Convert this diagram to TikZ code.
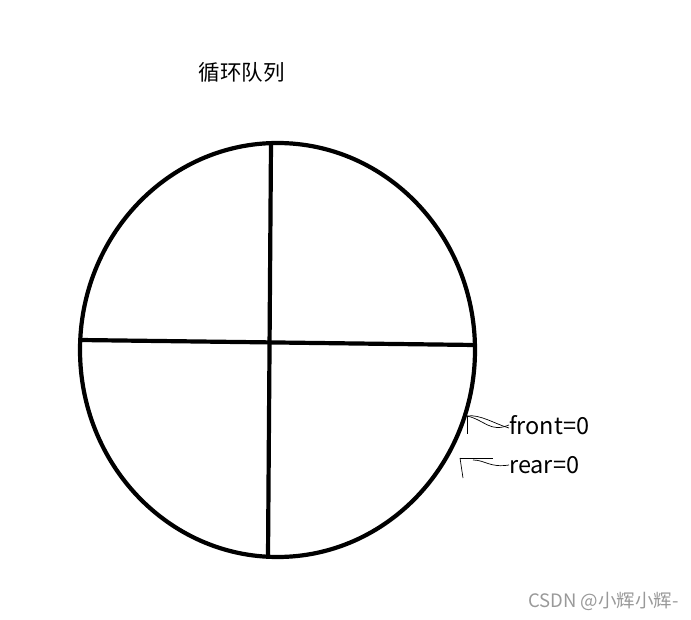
\documentclass[tikz,border=0pt]{standalone}
\usepackage{fontspec}
\setmainfont{Noto Sans CJK SC}
\begin{document}
\begin{tikzpicture}[x=1pt,y=-1pt,
    ring/.style={line width=4.2pt},
    pen/.style={line width=0.7pt},
    lbl/.style={anchor=west,inner sep=0pt,font=\fontsize{23.5}{23.5}\selectfont}]
     \useasboundingbox (0,0) rectangle (691,620);
     \def\cx{277.5}
     \def\cy{350}
     % ring and its four parts
     \draw[ring] (\cx,\cy) ellipse [x radius=197.5, y radius=207];
     \coordinate (top) at (271,143);
     \coordinate (bot) at (268,557);
     \coordinate (lft) at (80,340);
     \coordinate (rgt) at (475,345);
     \draw[ring] (top) -- (bot);
     \draw[ring] (lft) -- (rgt);
     % labels
     \node[inner sep=0pt,font=\fontsize{21.5}{21.5}\selectfont] (title) at (241.5,72) {循环队列};
     \node[lbl] (front) at (509,425) {front=0};
     \node[lbl] (rear) at (509,465) {rear=0};
     \node[anchor=east,inner sep=0pt,text=black!40,font=\fontsize{18.5}{18.5}\selectfont] (mark) at (679,601) {CSDN @小辉小辉-};
     % hand drawn pointers
     \coordinate (ftip) at (467,416);
     \coordinate (rtip) at (460,458);
     \draw[pen] (front.west) .. controls (490,433) and (485,420) .. (ftip);
     \draw[pen] ([yshift=-3]front.west) .. controls (495,424) and (480,414) .. (ftip);
     \draw[pen] (ftip) -- (467,434);
     \draw[pen] (rear.west) .. controls (490,468) and (485,460) .. (473,460);
     \draw[pen] (rtip) -- (493,458);
     \draw[pen] (rtip) -- (463,478);
    \end{tikzpicture}
\end{document}
